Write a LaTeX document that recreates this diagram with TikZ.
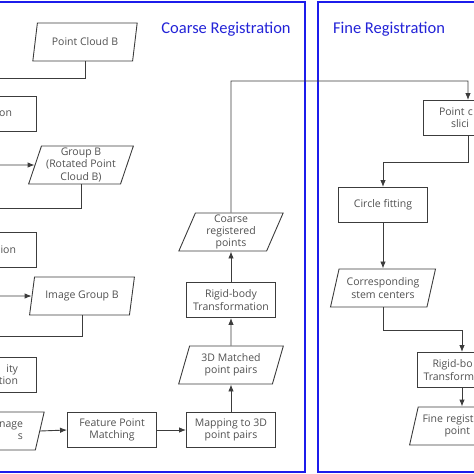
\documentclass[tikz,border=0pt]{standalone}
\usepackage{fontspec}
\setmainfont{Open Sans}
\newfontfamily\titlefont{Carlito}
\usepackage{tikz}
\usetikzlibrary{arrows.meta,shapes.geometric}
\definecolor{frameblue}{RGB}{28,28,235}
\definecolor{titleblue}{RGB}{35,35,215}
\definecolor{linegray}{RGB}{60,60,60}
\definecolor{textgray}{RGB}{80,80,80}

\begin{document}
\begin{tikzpicture}[x=1pt,y=-1pt,->,>={Latex[length=7pt,width=5.5pt]},semithick,
                    font=\fontsize{10.5}{12.3}\selectfont]
  \tikzstyle{every node}=[text=textgray]
  \tikzstyle{proc}=[rectangle,draw=linegray,line width=0.9pt,minimum width=89pt,
                    minimum height=35pt,align=center,inner sep=1pt]
  \tikzstyle{data}=[trapezium,trapezium left angle=72,trapezium right angle=108,
                    trapezium stretches=true,draw=linegray,line width=0.9pt,
                    minimum width=105pt,minimum height=38pt,align=center,inner sep=1pt]
  \tikzstyle{frame}=[-,draw=frameblue,line width=1.8pt]
  \tikzstyle{title}=[font=\titlefont\fontsize{16.5}{18}\selectfont,text=titleblue]

  \useasboundingbox (0,0) rectangle (474,474);

  % blue frames
  \draw[frame] (-10,2) rectangle (305,472);
  \draw[frame] (318,2) rectangle (490,472);
  \node[title] (tc) at (226,29) {Coarse Registration};
  \node[title] (tf) at (389,29) {Fine Registration};

  % coarse registration
  \node[data] (pcB)  at (85,42)   {Point Cloud B};
  \node[proc,text width=40pt,align=right] (rot) at (-8,114) {on};
  \node[data] (grpB) at (81,165)  {Group B\\(Rotated Point\\Cloud B)};
  \node[proc,text width=48pt,align=right] (prj) at (-8,250) {ion};
  \node[data] (imgB) at (82,296)  {Image Group B};
  \node[proc,text width=52pt,align=right] (qty) at (-8,375) {ity\hspace{4pt}\\tion};
  \node[data,text width=62pt,align=right] (imgP) at (-8,431) {nage\\s\hspace{16pt}};
  \node[proc] (fpm)  at (112,430) {Feature Point\\Matching};
  \node[proc] (map)  at (231,430) {Mapping to 3D\\point pairs};
  \node[data] (m3d)  at (231,365) {3D Matched\\point pairs};
  \node[proc] (rbc)  at (231,300) {Rigid-body\\Transformation};
  \node[data] (crp)  at (231,232) {Coarse\\registered\\points};

  % fine registration
  \node[proc,text width=58pt,align=left] (pcs) at (468,118) {Point c\\\hspace{12pt}slici};
  \node[proc] (cfit) at (383,205) {Circle fitting};
  \node[data] (csc)  at (383,288) {Corresponding\\stem centers};
  \node[proc,text width=77pt,align=left] (rbf) at (462,370) {\hspace{9pt}Rigid-bo\\Transform};
  \node[data,text width=79pt,align=left] (frp) at (462,426) {Fine regist\\\hspace{22pt}point};

  \coordinate (c1) at (-10,78);
  \coordinate (c2) at (-10,165);
  \coordinate (c3) at (-10,208);
  \coordinate (c4) at (-10,296);
  \coordinate (c5) at (-10,336);
  \coordinate (c6) at (231,81);
  \coordinate (c7) at (383,162);
  \coordinate (c8) at (462,330);

  \tikzstyle{every path}=[draw=linegray,line width=0.9pt]
  \draw[-] (pcB.south) |- (c1);
  \draw (c2) -- (grpB.west);
  \draw[-] (grpB.south) |- (c3);
  \draw (c4) -- (imgB.west);
  \draw[-] (imgB.south) |- (c5);
  \draw (imgP.east) -- (fpm.west);
  \draw (fpm) -- (map);
  \draw (map) -- (m3d);
  \draw (m3d) -- (rbc);
  \draw (rbc) -- (crp);
  \draw (crp.north) -- (c6) -| (pcs.north);
  \draw (pcs.south) |- (c7) -- (cfit.north);
  \draw (cfit) -- (csc);
  \draw (csc.south) |- (c8) -- (rbf.north);
  \draw (rbf) -- (frp);
\end{tikzpicture}
\end{document}
